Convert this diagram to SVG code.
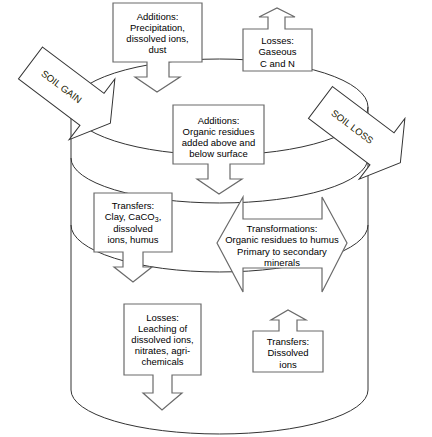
<svg xmlns="http://www.w3.org/2000/svg" width="432" height="437" viewBox="0 0 432 437">
<style>
.cyl{fill:none;stroke:#333;stroke-width:1}
.box{fill:#fff;stroke:#6a6a6a;stroke-width:1.2;stroke-linejoin:miter}
.big{fill:#fff;stroke:#333;stroke-width:1}
text{font-family:"Liberation Sans",Arial,sans-serif;font-size:9.5px;text-anchor:middle;fill:#000}
.lbl{font-size:9.6px;fill:#1a1a00}
</style>
<rect width="432" height="437" fill="#fff"/>
<g id="cylinder">
<ellipse class="cyl" cx="219.5" cy="107" rx="148.5" ry="48"/>
<path class="cyl" d="M71,107 V390 M368,107 V390"/>
<path class="cyl" d="M71,158 A148.5,45 0 0 0 368,158"/>
<path class="cyl" d="M71,225 A148.5,47 0 0 0 368,225"/>
<path class="cyl" d="M71,390 A148.5,44 0 0 0 368,390"/>
</g>
<g id="connectors"></g>
<g id="add-precip">
<path class="box" d="M113,3 H202 V62 H169 V77 H180 L157,92 L135,77 H147 V62 H113 Z"/>
<text x="157.5" y="19.5">Additions:</text>
<text x="157.5" y="30.8">Precipitation,</text>
<text x="157.5" y="42.1">dissolved ions,</text>
<text x="157.5" y="53.4">dust</text>
</g>
<g id="loss-gas">
<path class="box" d="M243,29 H268 V17 H259 L277,8 L295,17 H285 V29 H312 V71 H243 Z"/>
<text x="277.5" y="43.5">Losses:</text>
<text x="277.5" y="55">Gaseous</text>
<text x="277.5" y="66.5">C and N</text>
</g>
<g id="add-organic">
<path class="box" d="M173,105 H264 V164 H230 V179 H242 L219,194 L197,179 H208 V164 H173 Z"/>
<text x="218.5" y="123.5">Additions:</text>
<text x="218.5" y="135">Organic residues</text>
<text x="218.5" y="146.2">added above and</text>
<text x="218.5" y="157.4">below surface</text>
</g>
<g id="transfers-clay">
<path class="box" d="M94,193 H172 V252 H143 V267 H152 L133,282 L114,267 H123 V252 H94 Z"/>
<text x="133" y="208.5">Transfers:</text>
<text x="133" y="220">Clay, CaCO<tspan font-size="7" dy="2">3</tspan><tspan dy="-2">,</tspan></text>
<text x="133" y="231.5">dissolved</text>
<text x="133" y="242.8">ions, humus</text>
</g>
<g id="transformations">
<path class="box" d="M217,243 L243,197 V219 H322 V197 L347,243 L322,292 V268 H243 V292 Z"/>
<text x="282" y="231.5">Transformations:</text>
<text x="282" y="243">Organic residues to humus</text>
<text x="282" y="254.5">Primary to secondary</text>
<text x="282" y="266">minerals</text>
</g>
<g id="loss-leach">
<path class="box" d="M124,304 H201 V375 H172 V393 H182 L162,410 L143,393 H153 V375 H124 Z"/>
<text x="162.5" y="320.5">Losses:</text>
<text x="162.5" y="331.8">Leaching of</text>
<text x="162.5" y="343">dissolved ions,</text>
<text x="162.5" y="354">nitrates, agri-</text>
<text x="162.5" y="365">chemicals</text>
</g>
<g id="transfers-ions">
<path class="box" d="M253,331 H279 V320 H271 L288,310 L306,320 H297 V331 H323 V372 H253 Z"/>
<text x="288" y="344.5">Transfers:</text>
<text x="288" y="356.3">Dissolved</text>
<text x="288" y="367.5">ions</text>
</g>
<g id="soil-gain" transform="translate(30.5,63) rotate(37)">
<path class="big" d="M0,-20 H77 V-38 L100,0 L77,38 V20 H0 Z"/>
<text class="lbl" x="39" y="3.5">SOIL GAIN</text>
</g>
<g id="soil-loss" transform="translate(320.5,102.5) rotate(37)">
<path class="big" d="M0,-20 H77 V-38 L100,0 L77,38 V20 H0 Z"/>
<text class="lbl" x="40" y="3.5">SOIL LOSS</text>
</g>
</svg>
